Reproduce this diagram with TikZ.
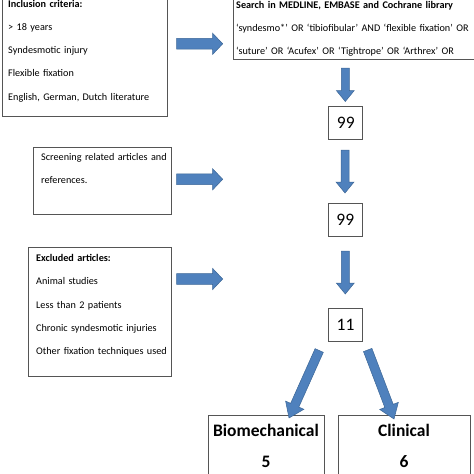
\documentclass[tikz,border=0pt]{standalone}
\usepackage{fontspec}
\setmainfont{Carlito}
\usetikzlibrary{calc}
\definecolor{arrowfill}{HTML}{4F81BD}
\definecolor{arrowline}{HTML}{3C6696}
\definecolor{boxline}{HTML}{555555}
\begin{document}
\begin{tikzpicture}[x=1pt,y=-1pt,
  box/.style={draw=boxline, line width=0.9pt, fill=white, inner sep=0pt},
  txt/.style={font=\fontsize{10.2}{23.3}\selectfont, anchor=base west, inner sep=0pt, text width=#1, align=left},
  num/.style={font=\fontsize{17.5}{20}\selectfont},
  big/.style={font=\fontsize{17.5}{20}\selectfont\bfseries, inner sep=0pt, anchor=base},
  blockarrow/.style n args={3}{fill=arrowfill, draw=arrowline, line width=0.5pt,
    to path={let \p1=(\tikztostart), \p2=(\tikztotarget),
      \n1={atan2(\y2-\y1,\x2-\x1)}, \n2={veclen(\x2-\x1,\y2-\y1)} in
      {[shift={(\p1)}, rotate=\n1] (0,{#1/2}) -- ({\n2-#3},{#1/2}) -- ({\n2-#3},{#2/2})
       -- (\n2,0) -- ({\n2-#3},{-#2/2}) -- ({\n2-#3},{-#1/2}) -- (0,{-#1/2}) -- cycle}}}
]
\useasboundingbox (0,0) rectangle (474,474);

% boxes
\node[box, minimum width=165, minimum height=140, anchor=south west] (incl) at (2,117) {};
\node[txt=158pt] (incltxt) at (8,7) {\textbf{Inclusion criteria:}\\ > 18 years\\ Syndesmotic injury\\ Flexible fixation\\ English, German, Dutch literature};

\node[box, minimum width=260, minimum height=90, anchor=south west] (search) at (233,60) {};
\node[txt=250pt] (searchtxt) at (236,8) {\textbf{Search in MEDLINE, EMBASE and Cochrane library}\\ ‘syndesmo*’ OR ‘tibiofibular’ AND ‘flexible fixation’ OR\\ ‘suture’ OR ‘Acufex’ OR ‘Tightrope’ OR ‘Arthrex’ OR};

\node[box, num, minimum width=34, minimum height=33] (n1) at (345.8,123) {99};

\node[box, minimum width=138, minimum height=67] (screen) at (102,180.5) {};
\node[txt=130pt] (screentxt) at (41,160.5) {Screening related articles and\\ references.};

\node[box, num, minimum width=34, minimum height=33] (n2) at (345.3,219.6) {99};

\node[box, minimum width=143, minimum height=129] (excl) at (99.5,311.5) {};
\node[txt=135pt] (excltxt) at (36,261.5) {\textbf{Excluded articles:}\\ Animal studies\\ Less than 2 patients\\ Chronic syndesmotic injuries\\ Other fixation techniques used};

\node[box, num, minimum width=34, minimum height=33] (n3) at (345.6,324.7) {11};

\node[box, minimum width=116, minimum height=80, anchor=north west] (bio) at (208,415) {};
\node[big] (biot) at (266,436.7) {Biomechanical};
\node[big] (bion) at (266,467.3) {5};

\node[box, minimum width=132, minimum height=80, anchor=north west] (clin) at (338,415) {};
\node[big] (clint) at (404,436.7) {Clinical};
\node[big] (clinn) at (404,467.3) {6};

% arrow end points
\coordinate (h1s) at (176.7,43.8);  \coordinate (h1e) at (222.7,43.8);
\coordinate (h2s) at (176.7,179.3); \coordinate (h2e) at (222.7,179.3);
\coordinate (h3s) at (176.7,279);   \coordinate (h3e) at (222.7,279);
\coordinate (v1s) at (345.3,68);    \coordinate (v1e) at (345.3,101.5);
\coordinate (v2s) at (345,150);     \coordinate (v2e) at (345,193);
\coordinate (v3s) at (345.3,251);   \coordinate (v3e) at (345.3,294);
\coordinate (d1s) at (319.2,350.5); \coordinate (d1e) at (289,418);
\coordinate (d2s) at (367.7,350);   \coordinate (d2e) at (394,419);

\draw[blockarrow={10.7}{21}{10}] (h1s) to (h1e);
\draw[blockarrow={10.7}{21}{10}] (h2s) to (h2e);
\draw[blockarrow={10.7}{21}{10}] (h3s) to (h3e);
\draw[blockarrow={8}{18}{11}] (v1s) to (v1e);
\draw[blockarrow={8}{18}{11}] (v2s) to (v2e);
\draw[blockarrow={8}{18}{11}] (v3s) to (v3e);
\draw[blockarrow={9}{20}{14}] (d1s) to (d1e);
\draw[blockarrow={9}{20}{14}] (d2s) to (d2e);
\end{tikzpicture}
\end{document}
